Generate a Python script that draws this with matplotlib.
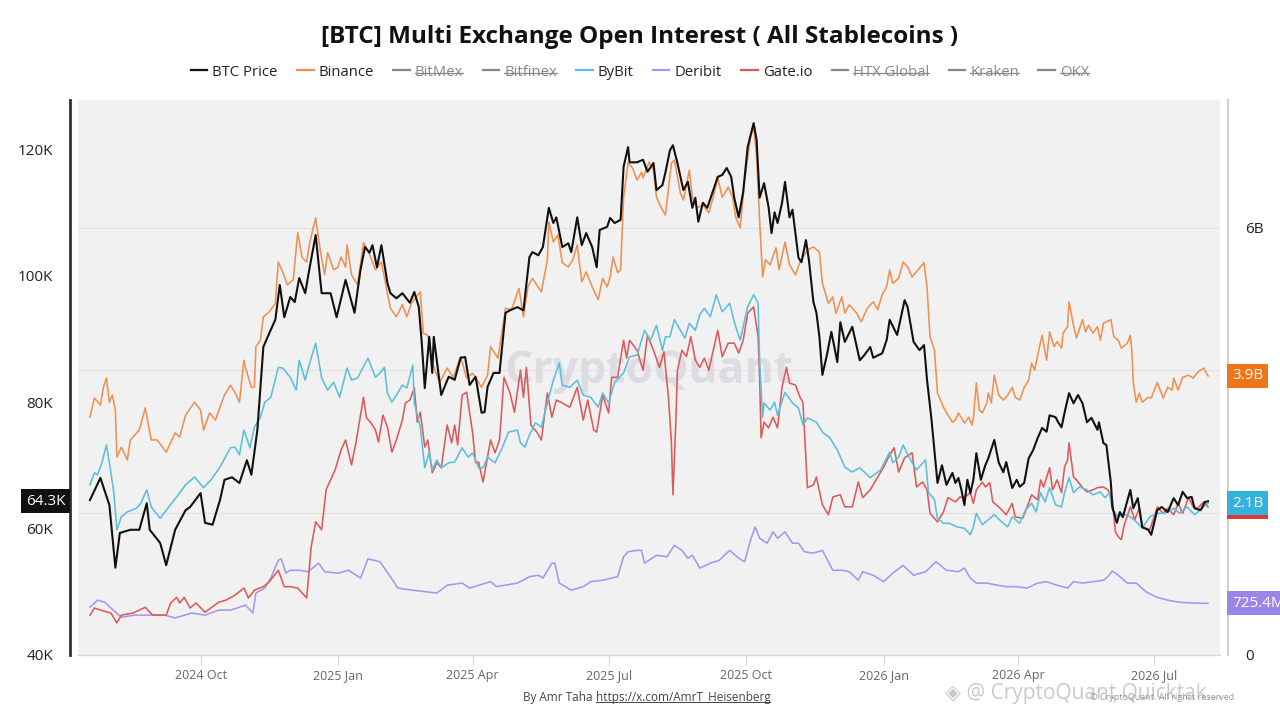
import pandas as pd
import matplotlib.pyplot as plt
import matplotlib.dates as mdates
import matplotlib.transforms as mtransforms
from matplotlib.lines import Line2D

plt.rcParams['font.family'] = ['Open Sans', 'DejaVu Sans']

start = pd.Timestamp('2024-07-19')

# (day since start, BTC price in K USD)
btc = [(0,64.5),(7,68.0),(13,63.7),(17,53.8),(20,59.3),(27,59.8),(33,59.8),(38,64.0),(40,59.8),(47,57.7),(51,54.2),(57,59.8),(64,62.9),(67,63.4),(74,65.6),(77,60.9),(82,60.6),(87,64.5),(90,67.7),(95,68.1),(100,67.2),(105,70.8),(108,68.5),(112,75.6),(116,88.7),(120,90.9),(124,93.0),(127,98.5),(130,93.4),(134,96.6),(137,95.8),(140,99.6),(144,97.2),(147,101.3),(151,106.4),(155,97.2),(161,97.2),(165,93.4),(171,99.3),(177,94.1),(181,100.9),(184,104.5),(187,103.6),(189,104.8),(192,101.3),(195,104.8),(199,98.8),(201,97.2),(205,96.4),(209,97.2),(214,95.7),(217,97.4),(220,95.0),(222,89.3),(224,82.2),(227,90.3),(229,84.6),(230,90.3),(235,81.1),(240,84.0),(244,83.5),(248,87.0),(251,87.1),(254,82.7),(258,84.0),(262,78.3),(264,78.4),(266,82.4),(270,84.6),(274,84.6),(278,94.1),(281,94.5),(286,95.0),(290,94.5),(294,102.9),(296,103.7),(300,103.2),(303,104.5),(307,110.7),(310,108.3),(312,109.2),(316,104.5),(320,105.1),(322,103.7),(326,109.2),(329,104.8),(332,106.7),(336,104.5),(339,101.3),(341,107.2),(346,107.7),(348,109.1),(351,108.3),(355,108.8),(357,117.2),(360,120.3),(361,117.9),(366,117.9),(370,118.3),(373,116.4),(377,117.8),(379,113.5),(383,114.3),(385,116.3),(388,119.8),(390,120.6),(393,117.8),(397,113.5),(400,114.8),(403,110.7),(405,112.3),(407,108.5),(410,111.5),(413,110.7),(417,113.5),(420,115.6),(423,115.9),(426,117.0),(429,115.6),(431,112.3),(434,109.2),(437,113.2),(440,120.3),(444,124.1),(446,121.4),(448,112.3),(451,114.6),(454,110.8),(456,106.7),(458,110.0),(460,108.3),(463,111.5),(465,114.8),(468,109.2),(470,110.4),(474,102.8),(476,102.1),(479,105.6),(481,102.4),(484,95.8),(486,94.1),(488,90.3),(490,84.3),(493,87.4),(496,91.1),(500,86.3),(502,92.6),(505,89.5),(510,91.9),(512,89.8),(515,86.6),(518,87.4),(522,88.7),(524,87.0),(530,87.7),(533,89.8),(535,93.0),(540,90.6),(545,96.1),(547,95.0),(551,89.5),(555,88.2),(558,89.0),(560,83.5),(563,77.2),(567,67.2),(570,70.0),(573,66.9),(577,68.8),(579,67.2),(581,68.0),(583,66.1),(585,63.7),(587,67.7),(589,65.6),(591,67.7),(593,71.9),(596,67.7),(599,70.0),(601,71.1),(605,74.0),(608,70.4),(611,68.9),(613,70.5),(617,66.4),(620,67.7),(622,66.6),(625,67.2),(628,71.1),(631,72.4),(634,74.3),(637,75.9),(640,75.3),(642,77.9),(646,77.6),(648,76.7),(650,76.0),(652,78.3),(655,81.4),(658,79.8),(661,81.1),(664,79.8),(667,76.8),(670,77.5),(674,75.6),(675,76.8),(678,73.5),(680,73.2),(683,67.2),(684,63.4),(687,60.9),(689,62.6),(691,61.8),(696,66.1),(698,63.2),(701,64.8),(704,60.2),(708,59.8),(710,59.0),(714,62.9),(717,63.4),(721,62.6),(723,63.7),(725,64.8),(728,63.7),(731,65.8),(734,64.8),(737,65.0),(739,63.2),(743,62.9),(746,64.2),(748,64.3)]

# (day since start, open interest in billions USD)
binance = [(0,3.34),(3,3.61),(7,3.51),(9,3.76),(11,3.89),(13,3.55),(15,3.65),(17,3.44),(18,2.78),(21,2.92),(25,2.74),(27,3.02),(33,3.16),(37,3.47),(41,3.02),(45,3.02),(51,2.85),(57,3.12),(60,3.06),(64,3.37),(70,3.55),(74,3.44),(76,3.16),(80,3.40),(84,3.30),(87,3.48),(90,3.65),(94,3.79),(97,3.69),(100,3.55),(103,4.14),(104,4.04),(108,3.76),(110,3.76),(111,4.33),(114,4.42),(116,4.75),(120,4.82),(124,4.94),(126,5.52),(129,5.38),(132,5.20),(136,5.27),(139,5.93),(142,5.58),(145,5.52),(147,5.79),(151,6.14),(154,5.69),(157,5.34),(159,5.65),(163,5.41),(166,5.45),(168,5.59),(171,5.45),(172,5.76),(175,5.34),(179,5.20),(183,5.79),(187,5.63),(191,5.41),(195,5.52),(199,5.08),(201,4.87),(205,4.75),(209,4.92),(212,4.75),(215,4.94),(221,5.10),(223,4.52),(226,4.49),(229,4.10),(234,3.83),(239,4.03),(243,3.90),(248,4.19),(252,3.89),(256,3.96),(262,3.76),(266,3.93),(268,4.33),(273,4.17),(278,4.87),(282,4.85),(287,5.15),(290,4.75),(293,5.17),(296,5.29),(302,5.10),(306,5.55),(307,6.08),(310,5.80),(313,5.90),(316,5.51),(320,5.45),(323,5.55),(326,5.76),(329,5.24),(332,5.38),(336,5.17),(340,4.99),(343,5.29),(346,5.17),(348,5.31),(350,5.59),(353,5.37),(355,5.41),(357,6.43),(360,6.91),(363,6.84),(366,6.67),(369,6.78),(370,6.70),(374,6.92),(377,6.81),(379,6.43),(383,6.25),(385,6.18),(389,6.91),(391,6.95),(395,6.49),(397,6.39),(401,6.81),(403,6.43),(406,6.28),(410,6.32),(414,6.21),(417,6.43),(420,6.70),(423,6.43),(427,6.57),(430,6.43),(432,6.15),(435,6.00),(438,6.67),(442,7.28),(444,7.42),(446,6.99),(448,6.11),(450,5.31),(452,5.55),(455,5.48),(459,5.72),(461,5.41),(465,5.80),(468,5.48),(472,5.34),(475,5.52),(480,5.69),(484,5.73),(488,5.66),(490,5.22),(494,4.94),(497,5.03),(499,4.80),(503,5.03),(505,4.80),(508,4.92),(513,4.80),(516,4.68),(520,4.87),(524,4.96),(527,4.85),(530,5.06),(533,5.17),(535,5.41),(537,5.22),(541,5.29),(544,5.52),(547,5.45),(550,5.31),(554,5.41),(558,5.51),(560,5.17),(562,4.47),(565,4.28),(567,3.68),(571,3.48),(574,3.37),(577,3.27),(579,3.30),(581,3.40),(585,3.26),(588,3.34),(590,3.23),(591,3.33),(593,3.82),(595,3.44),(597,3.40),(600,3.54),(601,3.68),(603,3.54),(605,3.93),(608,3.65),(611,3.58),(614,3.65),(617,3.76),(619,3.62),(622,3.58),(625,3.76),(628,3.86),(630,4.10),(632,4.00),(634,4.21),(637,4.49),(640,4.14),(642,4.54),(645,4.33),(647,4.40),(650,4.31),(651,4.52),(654,4.61),(655,4.96),(658,4.63),(660,4.45),(664,4.71),(666,4.54),(668,4.63),(671,4.52),(674,4.61),(676,4.42),(678,4.66),(683,4.71),(685,4.47),(688,4.42),(690,4.31),(694,4.38),(696,4.49),(697,4.28),(698,3.82),(700,3.55),(702,3.68),(704,3.55),(708,3.62),(710,3.61),(714,3.83),(718,3.61),(721,3.76),(724,3.72),(725,3.89),(728,3.72),(731,3.90),(735,3.93),(738,3.89),(741,3.97),(745,4.03),(748,3.92)]

bybit = [(0,2.39),(3,2.56),(5,2.53),(8,2.70),(11,2.95),(13,2.70),(16,2.28),(18,1.76),(21,1.94),(25,2.01),(31,2.06),(34,2.13),(38,2.32),(41,2.08),(47,1.92),(52,2.06),(58,2.22),(64,2.39),(70,2.50),(76,2.35),(81,2.46),(87,2.64),(94,2.91),(97,2.92),(100,2.81),(103,3.16),(107,2.91),(110,3.20),(114,3.34),(117,3.55),(121,3.62),(126,4.04),(129,4.03),(134,3.90),(138,3.72),(140,4.14),(144,3.86),(147,4.10),(151,4.38),(155,3.89),(159,3.72),(163,3.83),(167,3.62),(172,4.03),(175,3.86),(179,3.89),(186,4.17),(191,3.90),(194,3.96),(197,4.04),(199,3.68),(202,3.55),(205,3.65),(209,3.79),(212,3.75),(216,4.07),(217,3.54),(221,3.20),(224,2.63),(227,2.85),(229,2.60),(232,2.74),(235,2.63),(240,2.70),(244,2.71),(249,2.91),(253,2.78),(256,2.84),(260,2.63),(263,2.63),(266,2.78),(271,2.70),(276,2.92),(280,3.13),(286,3.16),(288,2.98),(291,2.92),(294,3.09),(298,3.26),(302,3.20),(306,3.54),(310,3.86),(314,4.10),(316,3.79),(321,3.76),(326,3.86),(330,3.65),(335,3.62),(340,3.48),(343,3.68),(347,3.54),(351,3.83),(357,3.96),(361,4.19),(366,4.21),(371,4.56),(375,4.42),(379,4.63),(383,4.28),(385,4.47),(388,4.47),(391,4.71),(395,4.56),(398,4.45),(401,4.66),(405,4.56),(408,4.78),(411,4.87),(415,4.75),(419,5.06),(423,4.82),(428,4.94),(431,4.68),(435,4.42),(440,4.89),(444,5.06),(447,4.94),(448,4.14),(450,3.34),(451,3.54),(455,3.44),(458,3.55),(460,3.37),(465,3.69),(470,3.54),(474,3.47),(477,3.23),(480,3.33),(486,3.27),(490,3.13),(495,3.05),(500,2.88),(505,2.64),(510,2.57),(515,2.63),(522,2.49),(529,2.60),(535,2.85),(537,2.70),(541,2.78),(544,2.95),(549,2.74),(553,2.60),(559,2.74),(561,2.28),(565,2.18),(567,1.92),(571,1.85),(575,1.85),(580,1.80),(585,1.78),(589,1.69),(591,1.80),(593,1.99),(597,1.83),(601,1.90),(605,1.97),(610,1.87),(614,1.80),(617,1.94),(622,1.85),(626,2.04),(630,2.13),(633,2.01),(636,2.28),(639,2.15),(642,2.35),(646,2.11),(650,2.08),(652,2.28),(655,2.49),(658,2.28),(662,2.36),(667,2.32),(671,2.25),(676,2.29),(679,2.21),(682,2.28),(684,2.04),(688,1.94),(691,1.99),(696,1.94),(700,1.87),(704,1.78),(709,1.94),(714,1.99),(719,1.99),(725,2.06),(729,1.99),(734,2.08),(739,1.97),(744,2.06),(748,2.13)]

gateio = [(0,0.56),(3,0.66),(7,0.63),(14,0.59),(18,0.45),(21,0.56),(29,0.59),(37,0.67),(42,0.56),(51,0.56),(54,0.73),(58,0.81),(60,0.73),(63,0.81),(67,0.66),(71,0.73),(77,0.60),(86,0.74),(91,0.77),(97,0.84),(103,0.94),(106,0.80),(110,0.91),(116,0.96),(120,1.03),(126,1.19),(130,0.96),(134,0.96),(139,0.94),(145,0.80),(148,1.52),(151,1.87),(155,1.76),(158,2.32),(164,2.60),(168,2.88),(171,3.02),(175,2.67),(178,2.99),(183,3.62),(185,3.33),(188,3.26),(191,3.16),(193,2.99),(196,3.37),(199,3.20),(202,2.85),(205,3.02),(209,3.30),(211,3.54),(214,3.58),(217,3.75),(219,3.27),(221,3.41),(224,2.92),(226,3.02),(229,2.56),(232,2.70),(235,2.63),(239,3.23),(242,2.98),(244,3.23),(246,2.95),(249,3.65),(252,3.69),(256,3.12),(258,2.70),(260,2.71),(263,2.43),(266,2.78),(268,3.02),(271,2.84),(274,3.02),(277,3.90),(281,3.68),(284,3.41),(288,4.00),(290,3.62),(292,4.04),(295,3.23),(299,3.13),(302,3.02),(306,3.68),(309,3.34),(312,3.58),(316,3.54),(321,3.48),(326,3.76),(330,3.30),(333,3.58),(337,3.16),(339,3.13),(343,3.65),(347,3.40),(349,3.90),(353,3.90),(357,4.42),(359,4.17),(361,4.42),(366,4.28),(370,4.00),(373,4.49),(377,4.28),(381,4.04),(384,4.26),(387,3.62),(389,2.98),(390,2.25),(392,3.30),(393,4.00),(396,4.28),(399,4.19),(402,4.47),(405,4.14),(408,4.04),(411,4.17),(414,4.00),(417,4.28),(420,4.56),(423,4.19),(427,4.38),(431,4.38),(434,4.24),(437,4.42),(440,4.80),(444,4.89),(447,4.47),(448,3.90),(449,3.05),(451,3.27),(454,3.19),(457,3.34),(460,3.19),(463,3.76),(466,4.04),(468,3.82),(472,3.79),(475,3.62),(477,3.55),(480,2.35),(484,2.39),(486,2.50),(490,2.11),(494,1.97),(497,2.22),(502,2.25),(505,2.08),(510,2.08),(514,2.43),(517,2.21),(522,2.32),(527,2.50),(531,2.64),(534,2.77),(538,2.91),(541,2.57),(545,2.77),(550,2.84),(553,2.36),(557,2.43),(560,2.32),(562,1.99),(567,1.87),(571,2.01),(574,2.21),(579,2.15),(582,2.22),(585,2.21),(589,2.28),(591,2.13),(593,2.32),(597,2.43),(599,2.36),(602,2.42),(604,2.15),(609,2.06),(613,1.97),(617,2.13),(619,1.94),(624,1.92),(627,2.08),(630,2.25),(634,2.18),(636,2.46),(638,2.36),(642,2.63),(644,2.32),(647,2.46),(650,2.28),(652,2.64),(654,2.74),(655,2.98),(658,2.50),(660,2.46),(664,2.35),(667,2.29),(671,2.32),(674,2.35),(678,2.36),(681,2.32),(684,2.18),(686,1.73),(688,1.66),(690,1.62),(692,1.83),(696,2.08),(699,1.90),(702,2.06),(704,1.80),(709,1.76),(712,1.94),(714,2.08),(718,1.99),(721,2.06),(725,1.97),(728,2.13),(731,1.99),(735,2.21),(738,2.08),(741,2.06),(745,2.15),(748,2.08)]

deribit = [(0,0.67),(5,0.77),(10,0.74),(14,0.66),(21,0.53),(30,0.56),(39,0.56),(50,0.56),(57,0.52),(68,0.59),(77,0.56),(86,0.63),(94,0.63),(104,0.70),(109,0.59),(111,0.87),(117,0.94),(121,1.08),(126,1.33),(128,1.35),(131,1.15),(134,1.19),(140,1.19),(146,1.17),(153,1.29),(157,1.17),(166,1.15),(173,1.19),(181,1.08),(186,1.35),(194,1.31),(201,1.10),(206,0.94),(216,0.91),(232,0.87),(239,0.98),(249,1.01),(254,0.94),(268,1.03),(272,0.96),(286,1.01),(294,1.10),(300,1.12),(303,1.08),(309,1.29),(311,1.29),(314,1.01),(322,0.91),(330,0.96),(335,1.03),(343,1.05),(353,1.10),(357,1.38),(360,1.45),(366,1.47),(369,1.47),(371,1.29),(379,1.40),(386,1.38),(391,1.54),(396,1.47),(400,1.36),(403,1.40),(408,1.22),(415,1.29),(421,1.33),(428,1.47),(434,1.36),(438,1.31),(442,1.62),(445,1.80),(448,1.64),(453,1.57),(457,1.73),(460,1.64),(465,1.73),(470,1.57),(474,1.57),(478,1.45),(484,1.43),(490,1.47),(497,1.19),(503,1.19),(508,1.17),(514,1.05),(517,1.17),(524,1.12),(531,1.03),(537,1.15),(544,1.26),(551,1.12),(559,1.17),(566,1.31),(573,1.19),(581,1.17),(585,1.22),(589,1.08),(593,1.01),(600,1.01),(607,0.98),(613,0.96),(620,0.96),(627,0.94),(634,1.01),(640,1.03),(647,0.98),(654,0.94),(658,1.03),(664,1.01),(671,1.03),(678,1.05),(681,1.10),(684,1.18),(688,1.12),(694,1.01),(700,1.01),(707,0.88),(714,0.81),(721,0.77),(729,0.74),(738,0.73),(748,0.7254)]

legend_names = ['BTC Price', 'Binance', 'BitMex', 'Bitfinex', 'ByBit', 'Deribit',
                'Gate.io', 'HTX Global', 'Kraken', 'OKX']
hidden = ['BitMex', 'Bitfinex', 'HTX Global', 'Kraken', 'OKX']
colors = {'BTC Price': '#111111', 'Binance': '#ef9150', 'ByBit': '#5bbfdd',
          'Deribit': '#a597ee', 'Gate.io': '#dc5a5a'}


def series(pairs):
    d, v = zip(*pairs)
    return start + pd.to_timedelta(list(d), unit='D'), list(v)


W, H = 1280, 720
fig = plt.figure(figsize=(W / 100, H / 100), dpi=100)
ax = fig.add_axes([78 / W, 65 / H, 1142 / W, 555 / H])
ax2 = ax.twinx()
ax.set_zorder(ax2.get_zorder() + 1)
ax.patch.set_visible(False)
ax2.patch.set_visible(True)
ax2.patch.set_facecolor('#f1f1f1')

for name, pairs in [('Deribit', deribit), ('Gate.io', gateio), ('ByBit', bybit), ('Binance', binance)]:
    x, y = series(pairs)
    ax2.plot(x, y, color=colors[name], lw=1.15, zorder=2)
x, y = series(btc)
ax.plot(x, y, color=colors['BTC Price'], lw=1.5, zorder=3)

ax.set_xlim(start - pd.Timedelta(days=8), start + pd.Timedelta(days=756))
ax.set_ylim(40, 127.75)
ax2.set_ylim(0, 7.795)

ax.set_yticks([40, 60, 80, 100, 120])
ax.set_yticklabels(['40K', '60K', '80K', '100K', '120K'])
# 2B and 4B labels sit under the last-value badges, as in the source chart
ax2.set_yticks([0, 2, 4, 6])
ax2.set_yticklabels(['0', '', '', '6B'])
ax2.grid(axis='y', color='#e3e3e3', lw=0.9)
ax2.set_axisbelow(True)

ax.xaxis.set_major_locator(mdates.MonthLocator(bymonth=[1, 4, 7, 10]))
ax.xaxis.set_major_formatter(mdates.DateFormatter('%Y %b'))
ax.tick_params(axis='x', length=7, color='#d6d6d6', labelcolor='#666666', labelsize=9, pad=3)
ax.tick_params(axis='y', length=0, labelcolor='#222222', labelsize=11, pad=12)
ax2.tick_params(axis='y', length=0, labelcolor='#222222', labelsize=11, pad=12)

for s in ['top', 'right']:
    ax.spines[s].set_visible(False)
for s in ['top', 'left', 'bottom']:
    ax2.spines[s].set_visible(False)
ax.spines['left'].set_position(('outward', 6))
ax.spines['left'].set_color('#333333')
ax.spines['left'].set_linewidth(2)
ax.spines['bottom'].set_color('#d8d8d8')
ax.spines['bottom'].set_linewidth(1)
ax2.spines['right'].set_position(('outward', 6))
ax2.spines['right'].set_color('#d2d2d2')
ax2.spines['right'].set_linewidth(1.5)

# watermark
ax2.text(0.5, 0.51, 'CryptoQuant', transform=ax2.transAxes, ha='center', va='center',
         fontsize=32, fontweight='bold', color='#dcdce2', zorder=1)

# last value badges
tr2 = mtransforms.blended_transform_factory(ax2.transAxes, ax2.transData)
badges = [(gateio[-1][1], '2.1B', '#d93a3a', 5), (binance[-1][1], '3.9B', '#f07418', 6),
          (bybit[-1][1], '2.1B', '#35b2dc', 6), (deribit[-1][1], '725.4M', '#9a86e8', 6)]
for val, txt, c, z in badges:
    ax2.text(1.0105, val, txt, transform=tr2, ha='left', va='center', color='white',
             fontsize=11, zorder=z, clip_on=False,
             bbox=dict(boxstyle='square,pad=0.3', fc=c, ec='none'))
tr1 = mtransforms.blended_transform_factory(ax.transAxes, ax.transData)
ax.text(-0.011, btc[-1][1], '64.3K', transform=tr1, ha='right', va='center', color='white',
        fontsize=11, zorder=6, clip_on=False,
        bbox=dict(boxstyle='square,pad=0.3', fc='#111111', ec='none'))

fig.text(0.5, 1 - 37 / H, '[BTC] Multi Exchange Open Interest ( All Stablecoins )',
         ha='center', va='center', fontsize=17.5, fontweight='bold', color='#111111')

handles = [Line2D([], [], color=('#888888' if n in hidden else colors[n]), lw=1.6)
           for n in legend_names]
leg = fig.legend(handles, legend_names, loc='center', bbox_to_anchor=(0.5, 1 - 72 / H),
                 ncol=10, frameon=False, fontsize=10.7, handlelength=1.1,
                 handletextpad=0.35, columnspacing=1.3)
for t in leg.get_texts():
    t.set_color('#888888' if t.get_text() in hidden else '#222222')

t1 = fig.text(523 / W, 1 - 697 / H, 'By Amr Taha ', ha='left', va='center',
              fontsize=8.5, color='#444444')
fig.text(945 / W, 1 - 694 / H, '\u25c8 @ CryptoQuant Quicktak\u2026', ha='left', va='center',
         fontsize=15, color='#c4c4c4', alpha=0.9)
fig.text(1090 / W, 1 - 697 / H, '\u00a9 CryptoQuant. All rights reserved', ha='left',
         va='center', fontsize=6.5, color='#999999')

fig.canvas.draw()
r = fig.canvas.get_renderer()
bb1 = t1.get_window_extent(r)
t2 = fig.text(bb1.x1 / W, 1 - 697 / H, 'https://x.com/AmrT_Heisenberg', ha='left',
              va='center', fontsize=8.5, color='#444444')
fig.canvas.draw()
bb2 = t2.get_window_extent(r)
fig.add_artist(Line2D([bb2.x0 / W, bb2.x1 / W], [(bb2.y0 + 2) / H] * 2,
                      color='#444444', lw=0.7))
for t in leg.get_texts():
    if t.get_text() in hidden:
        bb = t.get_window_extent(r)
        ym = (bb.y0 + bb.y1) / 2 - 0.5
        fig.add_artist(Line2D([bb.x0 / W, bb.x1 / W], [ym / H] * 2, color='#888888', lw=0.9))

fig.savefig('out.png', dpi=100)
